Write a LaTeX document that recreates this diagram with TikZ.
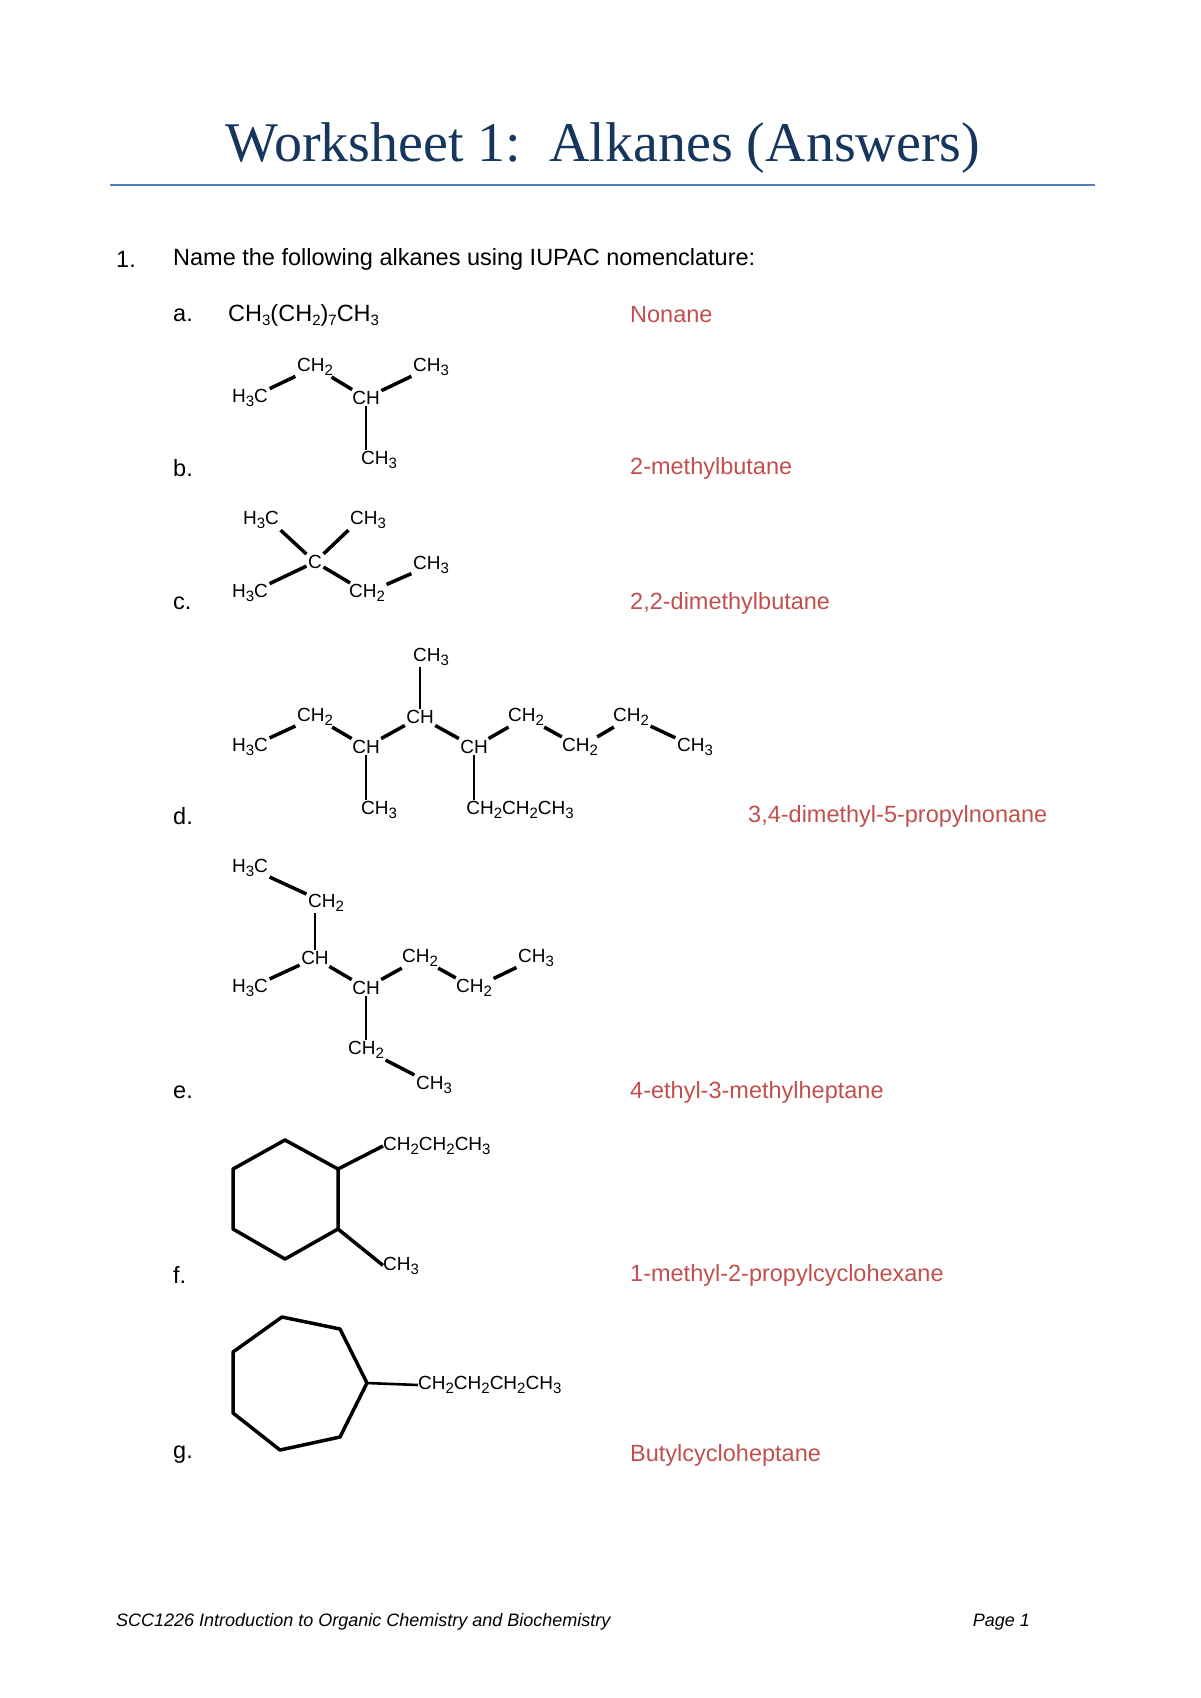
\documentclass[tikz,border=0pt]{standalone}
\usepackage{fontspec}
\setmainfont{Liberation Sans}
\newfontfamily\titlefont{Liberation Serif}
\definecolor{ttl}{RGB}{23,54,93}
\definecolor{rul}{RGB}{79,129,189}
\definecolor{ans}{RGB}{192,80,77}
\newcommand{\chsub}[1]{\raisebox{-0.35ex}{\fontsize{15}{15}\selectfont #1}}
\begin{document}
\begin{tikzpicture}[x=1pt,y=-1pt,
  txt/.style={anchor=west,font=\fontsize{23.5}{27}\selectfont,inner sep=0pt},
  red/.style={txt,text=ans},
  ch/.style={font=\fontsize{19}{22}\selectfont,inner sep=1.5pt},
  bd/.style={line width=3.5pt},
  rg/.style={line width=3.5pt,line join=round}]
\useasboundingbox (0,0) rectangle (1200,1698);
\node[font=\titlefont\fontsize{56}{62}\selectfont,text=ttl] (title) at (603,148) {Worksheet 1:\ \ Alkanes (Answers)};
\draw[rul,line width=2.5pt] (110,185) -- (1095,185);
\node[txt] (q1) at (116,259) {1.};
\node[txt] (q1t) at (173,259) {Name the following alkanes using IUPAC nomenclature:};
\node[txt] (la) at (173,315) {a.};
\node[txt] (fa) at (228,315) {CH\chsub{3}(CH\chsub{2})\chsub{7}CH\chsub{3}};
\node[red] (na) at (630,315) {Nonane};
% b
\node[txt] (lb) at (173,468) {b.};
\node[red] (nb) at (630,468) {2-methylbutane};
\node[ch] (b1) at (250,398) {H\chsub{3}C};
\node[ch] (b2) at (315,367) {CH\chsub{2}};
\node[ch] (b3) at (366,398) {CH};
\node[ch] (b4) at (431,367) {CH\chsub{3}};
\node[ch] (b5) at (379,460) {CH\chsub{3}};
\draw[bd] (b1)--(b2); \draw[bd] (b2)--(b3); \draw[bd] (b3)--(b4); \draw[line width=2.4pt] (b3)--(b3|-b5.north);
% c
\node[txt] (lc) at (173,603) {c.};
\node[red] (nc) at (630,603) {2,2-dimethylbutane};
\node[ch] (c1) at (261,520) {H\chsub{3}C};
\node[ch] (c2) at (368,520) {CH\chsub{3}};
\node[ch] (c0) at (315,562) {C};
\node[ch] (c3) at (250,593) {H\chsub{3}C};
\node[ch] (c4) at (367,593) {CH\chsub{2}};
\node[ch] (c5) at (431,565) {CH\chsub{3}};
\draw[bd] (c1.south east)--(c0); \draw[bd] (c2.south west)--(c0); \draw[bd] (c3)--(c0); \draw[bd] (c0)--(c4); \draw[bd] (c4)--(c5);
% d
\node[txt] (ld) at (173,816) {d.};
\node[red] (nd) at (748,816) {3,4-dimethyl-5-propylnonane};
\node[ch] (d1) at (250,747) {H\chsub{3}C};
\node[ch] (d2) at (315,717) {CH\chsub{2}};
\node[ch] (d3) at (366,747) {CH};
\node[ch] (d4) at (420,717) {CH};
\node[ch] (d5) at (474,747) {CH};
\node[ch] (d6) at (526,717) {CH\chsub{2}};
\node[ch] (d7) at (580,747) {CH\chsub{2}};
\node[ch] (d8) at (631,717) {CH\chsub{2}};
\node[ch] (d9) at (695,747) {CH\chsub{3}};
\node[ch] (d10) at (431,657) {CH\chsub{3}};
\node[ch] (d11) at (379,810) {CH\chsub{3}};
\node[ch] (d12) at (520,810) {CH\chsub{2}CH\chsub{2}CH\chsub{3}};
\draw[bd] (d1)--(d2); \draw[bd] (d2)--(d3); \draw[bd] (d3)--(d4); \draw[bd] (d4)--(d5);
\draw[bd] (d5)--(d6); \draw[bd] (d6)--(d7); \draw[bd] (d7)--(d8); \draw[bd] (d8)--(d9);
\draw[line width=2.4pt] (d4)--(d4|-d10.south); \draw[line width=2.4pt] (d3)--(d3|-d11.north); \draw[line width=2.4pt] (d5)--(d5|-d12.north);
% e
\node[txt] (le) at (173,1092) {e.};
\node[red] (ne) at (630,1092) {4-ethyl-3-methylheptane};
\node[ch] (e1) at (250,868) {H\chsub{3}C};
\node[ch] (e2) at (326,903) {CH\chsub{2}};
\node[ch] (e3) at (315,958) {CH};
\node[ch] (e4) at (250,988) {H\chsub{3}C};
\node[ch] (e5) at (366,988) {CH};
\node[ch] (e6) at (420,958) {CH\chsub{2}};
\node[ch] (e7) at (474,988) {CH\chsub{2}};
\node[ch] (e8) at (536,958) {CH\chsub{3}};
\node[ch] (e9) at (366,1050) {CH\chsub{2}};
\node[ch] (e10) at (434,1085) {CH\chsub{3}};
\draw[bd] (e1)--(e2); \draw[line width=2.4pt] (e3|-e2.south)--(e3); \draw[bd] (e4)--(e3); \draw[bd] (e3)--(e5);
\draw[bd] (e5)--(e6); \draw[bd] (e6)--(e7); \draw[bd] (e7)--(e8); \draw[line width=2.4pt] (e5)--(e9); \draw[bd] (e9)--(e10);
% f
\node[txt] (lf) at (173,1275) {f.};
\node[red] (nf) at (630,1275) {1-methyl-2-propylcyclohexane};
\coordinate (f1) at (285,1140); \coordinate (f2) at (338,1169); \coordinate (f3) at (338,1229);
\coordinate (f4) at (285,1259); \coordinate (f5) at (233,1229); \coordinate (f6) at (233,1169);
\draw[rg] (f1)--(f2)--(f3)--(f4)--(f5)--(f6)--cycle;
\node[ch,anchor=west,inner sep=0pt] (fp) at (383,1146) {CH\chsub{2}CH\chsub{2}CH\chsub{3}};
\node[ch,anchor=west,inner sep=0pt] (fm) at (383,1266) {CH\chsub{3}};
\draw[bd] (f2)--(fp.west); \draw[bd] (f3)--([yshift=-8pt]fm.north west);
% g
\node[txt] (lg) at (173,1455) {g.};
\node[red] (ng) at (630,1455) {Butylcycloheptane};
\coordinate (g1) at (282,1317); \coordinate (g2) at (340,1329); \coordinate (g3) at (367,1383);
\coordinate (g4) at (340,1437); \coordinate (g5) at (280,1450); \coordinate (g6) at (233,1413);
\coordinate (g7) at (233,1352);
\draw[rg] (g1)--(g2)--(g3)--(g4)--(g5)--(g6)--(g7)--cycle;
\node[ch,anchor=west,inner sep=0pt] (gb) at (418,1385) {CH\chsub{2}CH\chsub{2}CH\chsub{2}CH\chsub{3}};
\draw[line width=2.6pt] (g3)--(gb.west);
% footer
\node[anchor=west,inner sep=0pt,font=\itshape\fontsize{18}{21}\selectfont] (ft) at (116,1622) {SCC1226 Introduction to Organic Chemistry and Biochemistry};
\node[anchor=east,inner sep=0pt,font=\itshape\fontsize{18}{21}\selectfont] (pg) at (1030,1622) {Page 1};
\end{tikzpicture}
\end{document}
